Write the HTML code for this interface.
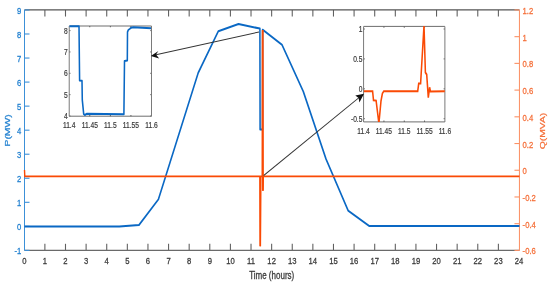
<!DOCTYPE html>
<html><head><meta charset="utf-8"><title>P and Q vs time</title>
<style>
html,body{margin:0;padding:0;background:#fff;}
body{width:550px;height:284px;overflow:hidden;}
svg{display:block;filter:blur(0.3px);font-family:"Liberation Sans",Arial,Helvetica,sans-serif;}
text{stroke-width:0.3px;}
.it{stroke-width:0.2px;}
</style></head>
<body>
<svg width="550" height="284" viewBox="0 0 550 284">
<rect width="550" height="284" fill="#fff"/>
<g transform="scale(0.775 1)">
<line x1="57.91" y1="250.4" x2="57.91" y2="243.8" stroke="#606060" stroke-width="1.4"/>
<line x1="57.91" y1="9.95" x2="57.91" y2="16.55" stroke="#606060" stroke-width="1.4"/>
<line x1="84.51" y1="250.4" x2="84.51" y2="243.8" stroke="#606060" stroke-width="1.4"/>
<line x1="84.51" y1="9.95" x2="84.51" y2="16.55" stroke="#606060" stroke-width="1.4"/>
<line x1="111.11" y1="250.4" x2="111.11" y2="243.8" stroke="#606060" stroke-width="1.4"/>
<line x1="111.11" y1="9.95" x2="111.11" y2="16.55" stroke="#606060" stroke-width="1.4"/>
<line x1="137.71" y1="250.4" x2="137.71" y2="243.8" stroke="#606060" stroke-width="1.4"/>
<line x1="137.71" y1="9.95" x2="137.71" y2="16.55" stroke="#606060" stroke-width="1.4"/>
<line x1="164.31" y1="250.4" x2="164.31" y2="243.8" stroke="#606060" stroke-width="1.4"/>
<line x1="164.31" y1="9.95" x2="164.31" y2="16.55" stroke="#606060" stroke-width="1.4"/>
<line x1="190.91" y1="250.4" x2="190.91" y2="243.8" stroke="#606060" stroke-width="1.4"/>
<line x1="190.91" y1="9.95" x2="190.91" y2="16.55" stroke="#606060" stroke-width="1.4"/>
<line x1="217.5" y1="250.4" x2="217.5" y2="243.8" stroke="#606060" stroke-width="1.4"/>
<line x1="217.5" y1="9.95" x2="217.5" y2="16.55" stroke="#606060" stroke-width="1.4"/>
<line x1="244.1" y1="250.4" x2="244.1" y2="243.8" stroke="#606060" stroke-width="1.4"/>
<line x1="244.1" y1="9.95" x2="244.1" y2="16.55" stroke="#606060" stroke-width="1.4"/>
<line x1="270.7" y1="250.4" x2="270.7" y2="243.8" stroke="#606060" stroke-width="1.4"/>
<line x1="270.7" y1="9.95" x2="270.7" y2="16.55" stroke="#606060" stroke-width="1.4"/>
<line x1="297.3" y1="250.4" x2="297.3" y2="243.8" stroke="#606060" stroke-width="1.4"/>
<line x1="297.3" y1="9.95" x2="297.3" y2="16.55" stroke="#606060" stroke-width="1.4"/>
<line x1="323.9" y1="250.4" x2="323.9" y2="243.8" stroke="#606060" stroke-width="1.4"/>
<line x1="323.9" y1="9.95" x2="323.9" y2="16.55" stroke="#606060" stroke-width="1.4"/>
<line x1="350.5" y1="250.4" x2="350.5" y2="243.8" stroke="#606060" stroke-width="1.4"/>
<line x1="350.5" y1="9.95" x2="350.5" y2="16.55" stroke="#606060" stroke-width="1.4"/>
<line x1="377.1" y1="250.4" x2="377.1" y2="243.8" stroke="#606060" stroke-width="1.4"/>
<line x1="377.1" y1="9.95" x2="377.1" y2="16.55" stroke="#606060" stroke-width="1.4"/>
<line x1="403.69" y1="250.4" x2="403.69" y2="243.8" stroke="#606060" stroke-width="1.4"/>
<line x1="403.69" y1="9.95" x2="403.69" y2="16.55" stroke="#606060" stroke-width="1.4"/>
<line x1="430.29" y1="250.4" x2="430.29" y2="243.8" stroke="#606060" stroke-width="1.4"/>
<line x1="430.29" y1="9.95" x2="430.29" y2="16.55" stroke="#606060" stroke-width="1.4"/>
<line x1="456.89" y1="250.4" x2="456.89" y2="243.8" stroke="#606060" stroke-width="1.4"/>
<line x1="456.89" y1="9.95" x2="456.89" y2="16.55" stroke="#606060" stroke-width="1.4"/>
<line x1="483.49" y1="250.4" x2="483.49" y2="243.8" stroke="#606060" stroke-width="1.4"/>
<line x1="483.49" y1="9.95" x2="483.49" y2="16.55" stroke="#606060" stroke-width="1.4"/>
<line x1="510.09" y1="250.4" x2="510.09" y2="243.8" stroke="#606060" stroke-width="1.4"/>
<line x1="510.09" y1="9.95" x2="510.09" y2="16.55" stroke="#606060" stroke-width="1.4"/>
<line x1="536.69" y1="250.4" x2="536.69" y2="243.8" stroke="#606060" stroke-width="1.4"/>
<line x1="536.69" y1="9.95" x2="536.69" y2="16.55" stroke="#606060" stroke-width="1.4"/>
<line x1="563.28" y1="250.4" x2="563.28" y2="243.8" stroke="#606060" stroke-width="1.4"/>
<line x1="563.28" y1="9.95" x2="563.28" y2="16.55" stroke="#606060" stroke-width="1.4"/>
<line x1="589.88" y1="250.4" x2="589.88" y2="243.8" stroke="#606060" stroke-width="1.4"/>
<line x1="589.88" y1="9.95" x2="589.88" y2="16.55" stroke="#606060" stroke-width="1.4"/>
<line x1="616.48" y1="250.4" x2="616.48" y2="243.8" stroke="#606060" stroke-width="1.4"/>
<line x1="616.48" y1="9.95" x2="616.48" y2="16.55" stroke="#606060" stroke-width="1.4"/>
<line x1="643.08" y1="250.4" x2="643.08" y2="243.8" stroke="#606060" stroke-width="1.4"/>
<line x1="643.08" y1="9.95" x2="643.08" y2="16.55" stroke="#606060" stroke-width="1.4"/>
<line x1="31.61" y1="9.95" x2="670.26" y2="9.95" stroke="#555555" stroke-width="1.2"/>
<line x1="31.61" y1="250.4" x2="670.26" y2="250.4" stroke="#6a6a6a" stroke-width="1.2"/>
<line x1="31.61" y1="250.4" x2="38.06" y2="250.4" stroke="#3c90d8" stroke-width="1.1"/>
<line x1="31.61" y1="226.36" x2="38.06" y2="226.36" stroke="#3c90d8" stroke-width="1.1"/>
<line x1="31.61" y1="202.31" x2="38.06" y2="202.31" stroke="#3c90d8" stroke-width="1.1"/>
<line x1="31.61" y1="178.26" x2="38.06" y2="178.26" stroke="#3c90d8" stroke-width="1.1"/>
<line x1="31.61" y1="154.22" x2="38.06" y2="154.22" stroke="#3c90d8" stroke-width="1.1"/>
<line x1="31.61" y1="130.18" x2="38.06" y2="130.18" stroke="#3c90d8" stroke-width="1.1"/>
<line x1="31.61" y1="106.13" x2="38.06" y2="106.13" stroke="#3c90d8" stroke-width="1.1"/>
<line x1="31.61" y1="82.09" x2="38.06" y2="82.09" stroke="#3c90d8" stroke-width="1.1"/>
<line x1="31.61" y1="58.04" x2="38.06" y2="58.04" stroke="#3c90d8" stroke-width="1.1"/>
<line x1="31.61" y1="33.99" x2="38.06" y2="33.99" stroke="#3c90d8" stroke-width="1.1"/>
<line x1="31.61" y1="9.95" x2="38.06" y2="9.95" stroke="#3c90d8" stroke-width="1.1"/>
<line x1="31.61" y1="9.95" x2="31.61" y2="250.4" stroke="#3c90d8" stroke-width="1.35"/>
<line x1="670.26" y1="250.4" x2="663.81" y2="250.4" stroke="#fb9166" stroke-width="1.1"/>
<line x1="670.26" y1="223.68" x2="663.81" y2="223.68" stroke="#fb9166" stroke-width="1.1"/>
<line x1="670.26" y1="196.97" x2="663.81" y2="196.97" stroke="#fb9166" stroke-width="1.1"/>
<line x1="670.26" y1="170.25" x2="663.81" y2="170.25" stroke="#fb9166" stroke-width="1.1"/>
<line x1="670.26" y1="143.53" x2="663.81" y2="143.53" stroke="#fb9166" stroke-width="1.1"/>
<line x1="670.26" y1="116.82" x2="663.81" y2="116.82" stroke="#fb9166" stroke-width="1.1"/>
<line x1="670.26" y1="90.1" x2="663.81" y2="90.1" stroke="#fb9166" stroke-width="1.1"/>
<line x1="670.26" y1="63.38" x2="663.81" y2="63.38" stroke="#fb9166" stroke-width="1.1"/>
<line x1="670.26" y1="36.67" x2="663.81" y2="36.67" stroke="#fb9166" stroke-width="1.1"/>
<line x1="670.26" y1="9.95" x2="663.81" y2="9.95" stroke="#fb9166" stroke-width="1.1"/>
<line x1="670.26" y1="9.95" x2="670.26" y2="250.4" stroke="#fb9166" stroke-width="1.35"/>
<text transform="translate(31.32 264.4)" font-size="9.9" fill="#3a3a3a" stroke="#3a3a3a" text-anchor="middle">0</text>
<text transform="translate(57.91 264.4)" font-size="9.9" fill="#3a3a3a" stroke="#3a3a3a" text-anchor="middle">1</text>
<text transform="translate(84.51 264.4)" font-size="9.9" fill="#3a3a3a" stroke="#3a3a3a" text-anchor="middle">2</text>
<text transform="translate(111.11 264.4)" font-size="9.9" fill="#3a3a3a" stroke="#3a3a3a" text-anchor="middle">3</text>
<text transform="translate(137.71 264.4)" font-size="9.9" fill="#3a3a3a" stroke="#3a3a3a" text-anchor="middle">4</text>
<text transform="translate(164.31 264.4)" font-size="9.9" fill="#3a3a3a" stroke="#3a3a3a" text-anchor="middle">5</text>
<text transform="translate(190.91 264.4)" font-size="9.9" fill="#3a3a3a" stroke="#3a3a3a" text-anchor="middle">6</text>
<text transform="translate(217.5 264.4)" font-size="9.9" fill="#3a3a3a" stroke="#3a3a3a" text-anchor="middle">7</text>
<text transform="translate(244.1 264.4)" font-size="9.9" fill="#3a3a3a" stroke="#3a3a3a" text-anchor="middle">8</text>
<text transform="translate(270.7 264.4)" font-size="9.9" fill="#3a3a3a" stroke="#3a3a3a" text-anchor="middle">9</text>
<text transform="translate(297.3 264.4)" font-size="9.9" fill="#3a3a3a" stroke="#3a3a3a" text-anchor="middle">10</text>
<text transform="translate(323.9 264.4)" font-size="9.9" fill="#3a3a3a" stroke="#3a3a3a" text-anchor="middle">11</text>
<text transform="translate(350.5 264.4)" font-size="9.9" fill="#3a3a3a" stroke="#3a3a3a" text-anchor="middle">12</text>
<text transform="translate(377.1 264.4)" font-size="9.9" fill="#3a3a3a" stroke="#3a3a3a" text-anchor="middle">13</text>
<text transform="translate(403.69 264.4)" font-size="9.9" fill="#3a3a3a" stroke="#3a3a3a" text-anchor="middle">14</text>
<text transform="translate(430.29 264.4)" font-size="9.9" fill="#3a3a3a" stroke="#3a3a3a" text-anchor="middle">15</text>
<text transform="translate(456.89 264.4)" font-size="9.9" fill="#3a3a3a" stroke="#3a3a3a" text-anchor="middle">16</text>
<text transform="translate(483.49 264.4)" font-size="9.9" fill="#3a3a3a" stroke="#3a3a3a" text-anchor="middle">17</text>
<text transform="translate(510.09 264.4)" font-size="9.9" fill="#3a3a3a" stroke="#3a3a3a" text-anchor="middle">18</text>
<text transform="translate(536.69 264.4)" font-size="9.9" fill="#3a3a3a" stroke="#3a3a3a" text-anchor="middle">19</text>
<text transform="translate(563.28 264.4)" font-size="9.9" fill="#3a3a3a" stroke="#3a3a3a" text-anchor="middle">20</text>
<text transform="translate(589.88 264.4)" font-size="9.9" fill="#3a3a3a" stroke="#3a3a3a" text-anchor="middle">21</text>
<text transform="translate(616.48 264.4)" font-size="9.9" fill="#3a3a3a" stroke="#3a3a3a" text-anchor="middle">22</text>
<text transform="translate(643.08 264.4)" font-size="9.9" fill="#3a3a3a" stroke="#3a3a3a" text-anchor="middle">23</text>
<text transform="translate(669.68 264.4)" font-size="9.9" fill="#3a3a3a" stroke="#3a3a3a" text-anchor="middle">24</text>
<text transform="translate(27.48 254.4)" font-size="9.9" fill="#2280d0" stroke="#2280d0" text-anchor="end">-1</text>
<text transform="translate(27.48 230.36)" font-size="9.9" fill="#2280d0" stroke="#2280d0" text-anchor="end">0</text>
<text transform="translate(27.48 206.31)" font-size="9.9" fill="#2280d0" stroke="#2280d0" text-anchor="end">1</text>
<text transform="translate(27.48 182.26)" font-size="9.9" fill="#2280d0" stroke="#2280d0" text-anchor="end">2</text>
<text transform="translate(27.48 158.22)" font-size="9.9" fill="#2280d0" stroke="#2280d0" text-anchor="end">3</text>
<text transform="translate(27.48 134.18)" font-size="9.9" fill="#2280d0" stroke="#2280d0" text-anchor="end">4</text>
<text transform="translate(27.48 110.13)" font-size="9.9" fill="#2280d0" stroke="#2280d0" text-anchor="end">5</text>
<text transform="translate(27.48 86.09)" font-size="9.9" fill="#2280d0" stroke="#2280d0" text-anchor="end">6</text>
<text transform="translate(27.48 62.04)" font-size="9.9" fill="#2280d0" stroke="#2280d0" text-anchor="end">7</text>
<text transform="translate(27.48 37.99)" font-size="9.9" fill="#2280d0" stroke="#2280d0" text-anchor="end">8</text>
<text transform="translate(27.48 13.95)" font-size="9.9" fill="#2280d0" stroke="#2280d0" text-anchor="end">9</text>
<text transform="translate(674.32 254.4)" font-size="9.9" fill="#f5703a" stroke="#f5703a" text-anchor="start">-0.6</text>
<text transform="translate(674.32 227.68)" font-size="9.9" fill="#f5703a" stroke="#f5703a" text-anchor="start">-0.4</text>
<text transform="translate(674.32 200.97)" font-size="9.9" fill="#f5703a" stroke="#f5703a" text-anchor="start">-0.2</text>
<text transform="translate(674.32 174.25)" font-size="9.9" fill="#f5703a" stroke="#f5703a" text-anchor="start">0</text>
<text transform="translate(674.32 147.53)" font-size="9.9" fill="#f5703a" stroke="#f5703a" text-anchor="start">0.2</text>
<text transform="translate(674.32 120.82)" font-size="9.9" fill="#f5703a" stroke="#f5703a" text-anchor="start">0.4</text>
<text transform="translate(674.32 94.1)" font-size="9.9" fill="#f5703a" stroke="#f5703a" text-anchor="start">0.6</text>
<text transform="translate(674.32 67.38)" font-size="9.9" fill="#f5703a" stroke="#f5703a" text-anchor="start">0.8</text>
<text transform="translate(674.32 40.67)" font-size="9.9" fill="#f5703a" stroke="#f5703a" text-anchor="start">1</text>
<text transform="translate(674.32 13.95)" font-size="9.9" fill="#f5703a" stroke="#f5703a" text-anchor="start">1.2</text>
<text transform="translate(350.58 278.5)" font-size="10.35" fill="#3a3a3a" stroke="#3a3a3a" text-anchor="middle">Time (hours)</text>
<text transform="translate(13.42 130.4) rotate(-90)" font-size="10.35" fill="#2280d0" stroke="#2280d0" text-anchor="middle">P(MW)</text>
<text transform="translate(703.74 131.0) rotate(-90)" font-size="10.35" fill="#f5703a" stroke="#f5703a" text-anchor="middle">Q(MVA)</text>
<polyline points="31.61,226.4 153.94,226.4 179.35,225 204.39,199.4 255.74,72.9 281.68,31.3 307.74,24 335.35,28.6 335.61,129.5 338.77,129.5 338.84,29.7 364,44.9 391.35,91.5 420.65,159 449.16,210.6 476.65,226.1 670.26,226.1" fill="none" stroke="#0a68c4" stroke-width="2.0" stroke-linejoin="round"/>
<polyline points="31.61,170 32,176.3 335.61,176.3 335.87,246.3 336.26,176.3 338.71,176.3 338.9,30 339.23,190.8 339.61,176.3 670.26,176.3" fill="none" stroke="#FA4A05" stroke-width="1.8" stroke-linejoin="miter"/>
<polyline points="335.61,176.3 335.87,246.3 336.26,176.3" fill="none" stroke="#FA4A05" stroke-width="2.1" stroke-linejoin="miter"/>
<polyline points="338.71,176.3 338.9,30 339.23,190.8 339.61,176.3" fill="none" stroke="#FA4A05" stroke-width="2.2" stroke-linejoin="miter"/>
<rect x="89.29" y="26" width="106.19" height="90.2" fill="#fff"/>
<text class="it" transform="translate(89.29 127.6)" font-size="8.6" fill="#3a3a3a" stroke="#3a3a3a" text-anchor="middle">11.4</text>
<text class="it" transform="translate(115.84 127.6)" font-size="8.6" fill="#3a3a3a" stroke="#3a3a3a" text-anchor="middle">11.45</text>
<line x1="115.84" y1="116.2" x2="115.84" y2="114.9" stroke="#5a5a5a" stroke-width="1.2"/>
<line x1="115.84" y1="26" x2="115.84" y2="27.3" stroke="#5a5a5a" stroke-width="1.2"/>
<text class="it" transform="translate(142.39 127.6)" font-size="8.6" fill="#3a3a3a" stroke="#3a3a3a" text-anchor="middle">11.5</text>
<line x1="142.39" y1="116.2" x2="142.39" y2="114.9" stroke="#5a5a5a" stroke-width="1.2"/>
<line x1="142.39" y1="26" x2="142.39" y2="27.3" stroke="#5a5a5a" stroke-width="1.2"/>
<text class="it" transform="translate(168.94 127.6)" font-size="8.6" fill="#3a3a3a" stroke="#3a3a3a" text-anchor="middle">11.55</text>
<line x1="168.94" y1="116.2" x2="168.94" y2="114.9" stroke="#5a5a5a" stroke-width="1.2"/>
<line x1="168.94" y1="26" x2="168.94" y2="27.3" stroke="#5a5a5a" stroke-width="1.2"/>
<text class="it" transform="translate(195.48 127.6)" font-size="8.6" fill="#3a3a3a" stroke="#3a3a3a" text-anchor="middle">11.6</text>
<text class="it" transform="translate(87.48 119)" font-size="8.6" fill="#3a3a3a" stroke="#3a3a3a" text-anchor="end">4</text>
<line x1="89.29" y1="116" x2="90.97" y2="116" stroke="#5a5a5a" stroke-width="1"/>
<line x1="195.48" y1="116" x2="193.81" y2="116" stroke="#5a5a5a" stroke-width="1"/>
<text class="it" transform="translate(87.48 97.65)" font-size="8.6" fill="#3a3a3a" stroke="#3a3a3a" text-anchor="end">5</text>
<line x1="89.29" y1="94.65" x2="90.97" y2="94.65" stroke="#5a5a5a" stroke-width="1"/>
<line x1="195.48" y1="94.65" x2="193.81" y2="94.65" stroke="#5a5a5a" stroke-width="1"/>
<text class="it" transform="translate(87.48 76.3)" font-size="8.6" fill="#3a3a3a" stroke="#3a3a3a" text-anchor="end">6</text>
<line x1="89.29" y1="73.3" x2="90.97" y2="73.3" stroke="#5a5a5a" stroke-width="1"/>
<line x1="195.48" y1="73.3" x2="193.81" y2="73.3" stroke="#5a5a5a" stroke-width="1"/>
<text class="it" transform="translate(87.48 54.95)" font-size="8.6" fill="#3a3a3a" stroke="#3a3a3a" text-anchor="end">7</text>
<line x1="89.29" y1="51.95" x2="90.97" y2="51.95" stroke="#5a5a5a" stroke-width="1"/>
<line x1="195.48" y1="51.95" x2="193.81" y2="51.95" stroke="#5a5a5a" stroke-width="1"/>
<text class="it" transform="translate(87.48 33.6)" font-size="8.6" fill="#3a3a3a" stroke="#3a3a3a" text-anchor="end">8</text>
<line x1="89.29" y1="30.6" x2="90.97" y2="30.6" stroke="#5a5a5a" stroke-width="1"/>
<line x1="195.48" y1="30.6" x2="193.81" y2="30.6" stroke="#5a5a5a" stroke-width="1"/>
<line x1="89.29" y1="26" x2="195.48" y2="26" stroke="#5a5a5a" stroke-width="1"/>
<line x1="89.29" y1="116.2" x2="195.48" y2="116.2" stroke="#5a5a5a" stroke-width="1"/>
<line x1="89.29" y1="26" x2="89.29" y2="116.2" stroke="#707070" stroke-width="1.2"/>
<line x1="195.48" y1="26" x2="195.48" y2="116.2" stroke="#707070" stroke-width="1.2"/>
<polyline points="89.68,26.2 101.94,26.2 102.71,80.5 105.81,80.7 106.19,100 108,114 109.42,115 111.74,113.8 159.87,114.2 160.65,61 164.26,60.5 164.52,32 165.55,30 167.23,29 169.29,27.7 171.87,27.3 194.84,28.3" fill="none" stroke="#0a68c4" stroke-width="2.0" stroke-linejoin="round"/>
<rect x="469.16" y="26.4" width="104.9" height="95.5" fill="#fff"/>
<text class="it" transform="translate(469.16 133.8)" font-size="8.6" fill="#3a3a3a" stroke="#3a3a3a" text-anchor="middle">11.4</text>
<text class="it" transform="translate(495.39 133.8)" font-size="8.6" fill="#3a3a3a" stroke="#3a3a3a" text-anchor="middle">11.45</text>
<line x1="495.39" y1="121.9" x2="495.39" y2="120.6" stroke="#5a5a5a" stroke-width="1.2"/>
<line x1="495.39" y1="26.4" x2="495.39" y2="27.7" stroke="#5a5a5a" stroke-width="1.2"/>
<text class="it" transform="translate(521.61 133.8)" font-size="8.6" fill="#3a3a3a" stroke="#3a3a3a" text-anchor="middle">11.5</text>
<line x1="521.61" y1="121.9" x2="521.61" y2="120.6" stroke="#5a5a5a" stroke-width="1.2"/>
<line x1="521.61" y1="26.4" x2="521.61" y2="27.7" stroke="#5a5a5a" stroke-width="1.2"/>
<text class="it" transform="translate(547.84 133.8)" font-size="8.6" fill="#3a3a3a" stroke="#3a3a3a" text-anchor="middle">11.55</text>
<line x1="547.84" y1="121.9" x2="547.84" y2="120.6" stroke="#5a5a5a" stroke-width="1.2"/>
<line x1="547.84" y1="26.4" x2="547.84" y2="27.7" stroke="#5a5a5a" stroke-width="1.2"/>
<text class="it" transform="translate(574.06 133.8)" font-size="8.6" fill="#3a3a3a" stroke="#3a3a3a" text-anchor="middle">11.6</text>
<text class="it" transform="translate(467.61 32)" font-size="8.6" fill="#3a3a3a" stroke="#3a3a3a" text-anchor="end">1</text>
<line x1="469.16" y1="29" x2="470.84" y2="29" stroke="#5a5a5a" stroke-width="1"/>
<line x1="574.06" y1="29" x2="572.39" y2="29" stroke="#5a5a5a" stroke-width="1"/>
<text class="it" transform="translate(467.61 61.9)" font-size="8.6" fill="#3a3a3a" stroke="#3a3a3a" text-anchor="end">0.5</text>
<line x1="469.16" y1="58.9" x2="470.84" y2="58.9" stroke="#5a5a5a" stroke-width="1"/>
<line x1="574.06" y1="58.9" x2="572.39" y2="58.9" stroke="#5a5a5a" stroke-width="1"/>
<text class="it" transform="translate(467.61 91.8)" font-size="8.6" fill="#3a3a3a" stroke="#3a3a3a" text-anchor="end">0</text>
<line x1="469.16" y1="88.8" x2="470.84" y2="88.8" stroke="#5a5a5a" stroke-width="1"/>
<line x1="574.06" y1="88.8" x2="572.39" y2="88.8" stroke="#5a5a5a" stroke-width="1"/>
<text class="it" transform="translate(467.61 121.7)" font-size="8.6" fill="#3a3a3a" stroke="#3a3a3a" text-anchor="end">-0.5</text>
<line x1="469.16" y1="118.7" x2="470.84" y2="118.7" stroke="#5a5a5a" stroke-width="1"/>
<line x1="574.06" y1="118.7" x2="572.39" y2="118.7" stroke="#5a5a5a" stroke-width="1"/>
<line x1="469.16" y1="26.4" x2="574.06" y2="26.4" stroke="#5a5a5a" stroke-width="1"/>
<line x1="469.16" y1="121.9" x2="574.06" y2="121.9" stroke="#5a5a5a" stroke-width="1"/>
<line x1="469.16" y1="26.4" x2="469.16" y2="121.9" stroke="#707070" stroke-width="1.2"/>
<line x1="574.06" y1="26.4" x2="574.06" y2="121.9" stroke="#707070" stroke-width="1.2"/>
<clipPath id="c2"><rect x="469.16" y="25.9" width="104.9" height="96"/></clipPath>
<polyline clip-path="url(#c2)" points="469.16,91.2 480.77,91.2 481.94,100.3 485.29,100.6 488.9,123.5 491.61,101 493.42,93.4 495.23,91.2 538.97,91.3 540.26,83.6 542.71,83.6 547.1,25.5 548.9,72.5 550.58,74.5 552.65,97.7 554.32,87.3 555.48,91.6 574.06,91.3" fill="none" stroke="#FA4A05" stroke-width="2.0" stroke-linejoin="miter"/>
<line x1="334.19" y1="32" x2="201.29" y2="54.7" stroke="#333" stroke-width="1.05"/>
<polygon points="194.58,55.9 204.39,51 201.29,54.6 205.42,58.6" fill="#111"/>
<line x1="340.26" y1="175.5" x2="463.23" y2="97.6" stroke="#333" stroke-width="1.05"/>
<polygon points="469.68,93.8 458.45,95.6 462.71,97.9 463.74,102.5" fill="#111"/>
</g>
</svg>
</body></html>
